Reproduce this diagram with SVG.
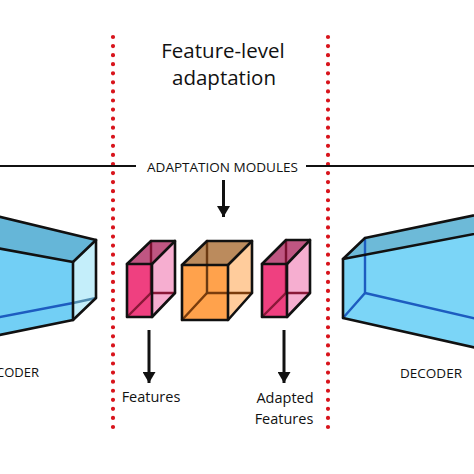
<svg xmlns="http://www.w3.org/2000/svg" width="474" height="474" viewBox="0 0 474 474">
<defs>
<style>
text{font-family:"Open Sans","Liberation Sans",sans-serif;fill:#111}
.edge{stroke:#111;stroke-width:2.6;stroke-linejoin:round;stroke-linecap:round}
.hid{fill:none;stroke-width:2.4;stroke-linecap:round}
.dots{stroke:#d8141c;stroke-width:4.2;stroke-linecap:round;stroke-dasharray:0 9.07;fill:none}
.line{stroke:#111;stroke-width:2;fill:none}
.shaft{stroke:#111;stroke-width:3;fill:none}
</style>
<marker id="ah" markerWidth="11" markerHeight="13" refX="11" refY="6.5" orient="auto" markerUnits="userSpaceOnUse" viewBox="0 0 11 13">
<path d="M0,0 L11,6.5 L0,13 Z" fill="#111"/>
</marker>
</defs>
<rect width="474" height="474" fill="#fff"/>

<g id="separators">
<line class="dots" x1="113" y1="37" x2="113" y2="436"/>
<line class="dots" x1="328" y1="37" x2="328" y2="436"/>
</g>

<g id="title">
<text x="223" y="58" font-size="20.5" text-anchor="middle">Feature-level</text>
<text x="224" y="85" font-size="20.5" text-anchor="middle">adaptation</text>
</g>

<g id="modules-label">
<text x="222.5" y="172" font-size="13.5" text-anchor="middle" textLength="151" lengthAdjust="spacingAndGlyphs">ADAPTATION MODULES</text>
</g>

<g id="encoder">
<polygon points="-20,212 96,240 73,262 -20,245" fill="#65b6d8"/>
<polygon points="-20,245 73,262 73,320 -20,339" fill="#72cff5"/>
<polygon points="73,262 96,240 96,298 73,320" fill="#c4eefa"/>
<line class="hid" x1="-5" y1="318" x2="73" y2="303" stroke="#1d5cc0"/>
<line class="hid" x1="73" y1="303" x2="96" y2="298" stroke="#4f8bb0"/>
<polyline class="edge" fill="none" points="-20,212 96,240 96,298 73,320 -20,339"/>
<polyline class="edge" fill="none" points="-20,245 73,262 96,240"/>
<line class="edge" x1="73" y1="262" x2="73" y2="320"/>
<text x="39" y="377" font-size="13" text-anchor="end">ENCODER</text>
</g>

<g id="decoder">
<polygon points="343,259 365,238 490,212 490,231" fill="#6dbad8"/>
<polygon points="343,259 490,231 490,351 343,318" fill="#7bd5f7"/>
<polyline class="hid" points="365,238 365,293 343,318" stroke="#1d5cc0"/>
<line class="hid" x1="365" y1="293" x2="490" y2="322" stroke="#1d5cc0"/>
<polyline class="edge" fill="none" points="490,212 365,238 343,259 343,318 490,351"/>
<line class="edge" x1="343" y1="259" x2="490" y2="231"/>
<text x="431" y="378" font-size="13.5" text-anchor="middle">DECODER</text>
</g>

<g id="features-cube">
<polygon points="127,264 151,241 175,241 152,264" fill="#bf5682"/>
<polygon points="127,264 152,264 152,317 127,317" fill="#ef4080"/>
<polygon points="152,264 175,241 175,293 152,317" fill="#f6aed0"/>
<polyline class="hid" points="127,317 151,293 175,293" stroke="#8a1838" stroke-width="2"/>
<line class="hid" x1="151" y1="241" x2="151" y2="293" stroke="#7a1030" stroke-width="2"/>
<polygon class="edge" fill="none" points="127,264 151,241 175,241 175,293 152,317 127,317"/>
<polyline class="edge" fill="none" points="127,264 152,264 175,241"/>
<line class="edge" x1="152" y1="264" x2="152" y2="317"/>
</g>

<g id="adaptation-cube">
<polygon points="182,265 207,241 252,241 228,265" fill="#bb8b5d"/>
<polygon points="182,265 228,265 228,320 182,320" fill="#ffa24c"/>
<polygon points="228,265 252,241 252,293 228,320" fill="#ffcc9c"/>
<polyline class="hid" points="182,320 207,293 252,293" stroke="#7a3c0c" stroke-width="2.2"/>
<line class="hid" x1="207" y1="241" x2="207" y2="293" stroke="#6b3a12" stroke-width="2.2"/>
<polygon class="edge" fill="none" points="182,265 207,241 252,241 252,293 228,320 182,320"/>
<polyline class="edge" fill="none" points="182,265 228,265 252,241"/>
<line class="edge" x1="228" y1="265" x2="228" y2="320"/>
</g>

<g id="adapted-cube">
<polygon points="262,264 286,240 310,240 287,264" fill="#bf5682"/>
<polygon points="262,264 287,264 287,317 262,317" fill="#ef4080"/>
<polygon points="287,264 310,240 310,293 287,317" fill="#f6aed0"/>
<polyline class="hid" points="262,317 286,293 310,293" stroke="#8a1838" stroke-width="2"/>
<line class="hid" x1="286" y1="240" x2="286" y2="293" stroke="#7a1030" stroke-width="2"/>
<polygon class="edge" fill="none" points="262,264 286,240 310,240 310,293 287,317 262,317"/>
<polyline class="edge" fill="none" points="262,264 287,264 310,240"/>
<line class="edge" x1="287" y1="264" x2="287" y2="317"/>
</g>

<g id="labels">
<text x="151" y="402" font-size="14.5" text-anchor="middle">Features</text>
<text x="285" y="403" font-size="14.5" text-anchor="middle">Adapted</text>
<text x="284" y="424" font-size="14.5" text-anchor="middle">Features</text>
</g>

<g id="connectors">
<line class="line" x1="0" y1="166" x2="136" y2="166"/>
<line class="line" x1="306" y1="166" x2="474" y2="166"/>
<line class="shaft" x1="223.5" y1="180" x2="223.5" y2="217" marker-end="url(#ah)"/>
<line class="shaft" x1="149" y1="330" x2="149" y2="383" marker-end="url(#ah)"/>
<line class="shaft" x1="284" y1="330" x2="284" y2="383" marker-end="url(#ah)"/>
</g>
</svg>
